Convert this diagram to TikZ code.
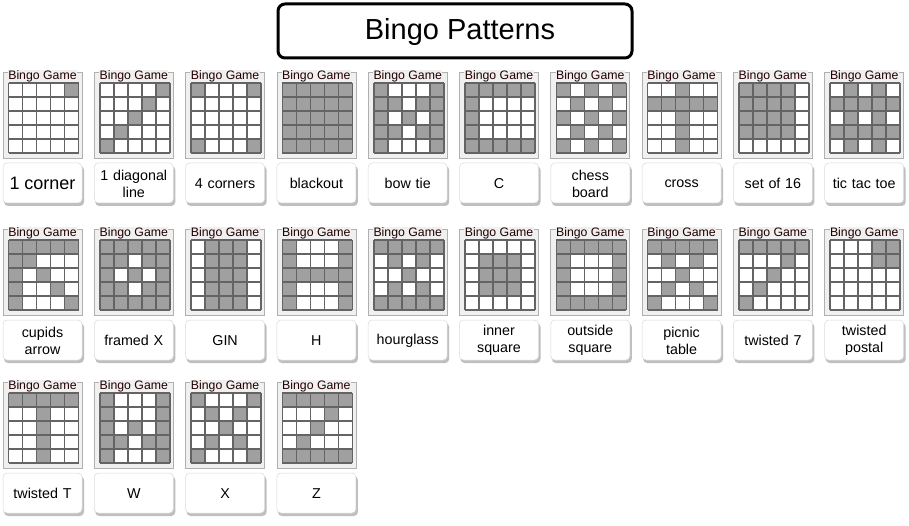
\documentclass[tikz,border=0pt]{standalone}
\usepackage{fontspec}
\setmainfont{Liberation Sans}
\definecolor{cellg}{HTML}{A0A0A0}
\definecolor{lineg}{HTML}{646464}
\definecolor{panelbg}{HTML}{F0F0F0}
\definecolor{panelbd}{HTML}{B0B0B0}
\definecolor{legendc}{HTML}{220000}
\tikzset{
  panel/.style={draw=panelbd,fill=panelbg,line width=0.8pt},
  legendtext/.style={fill=panelbg,inner sep=0.5pt,text=legendc,font=\fontsize{12.3}{13}\selectfont},
  gridln/.style={draw=lineg,line width=1.6pt},
  labelbox/.style={draw=white!85!black,fill=white,rounded corners=4pt,line width=0.5pt},
  shadowbox/.style={fill=black!25,rounded corners=4pt},
  labeltext/.style={align=center,text width=76pt,font=\fontsize{14.3}{17}\selectfont},
  titlebox/.style={draw=black,fill=white,line width=3pt,rounded corners=7pt},
}
\newcommand\card[5]{%
\begin{scope}[shift={(#1,#2)}]
  \draw[panel] (0,0) rectangle (79,86);
  \node[legendtext] at (39.5,4.5) {Bingo Game};
  \foreach \v [count=\i from 0] in {#4} {
    \pgfmathtruncatemacro\rr{floor(\i/5)}
    \pgfmathtruncatemacro\cc{mod(\i,5)}
    \ifnum\v=1 \def\fc{cellg}\else\def\fc{white}\fi
    \fill[\fc] ({5.5+\cc*14},{11+\rr*14}) rectangle ++(14,14);
  }
  \foreach \k in {0,...,5} {
    \draw[gridln] ({5.5+\k*14},11) -- ({5.5+\k*14},81);
    \draw[gridln] (5.5,{11+\k*14}) -- (75.5,{11+\k*14});
  }
  \fill[shadowbox] (1,94) rectangle (81,134);
  \draw[labelbox] (0,91) rectangle (79,131);
  \node[labeltext] (#3) at (39.5,111.5) {#5};
\end{scope}}
\begin{document}
\begin{tikzpicture}[x=1pt,y=-1pt]
\useasboundingbox[fill=white] (0,0) rectangle (909,526);
\draw[titlebox] (278,4) rectangle (632,58);
\node[font=\fontsize{29}{32}\selectfont] (title) at (460,32) {Bingo Patterns};
% row 1
\card{3}{72}{c1}{0,0,0,0,1, 0,0,0,0,0, 0,0,0,0,0, 0,0,0,0,0, 0,0,0,0,0}{\fontsize{18}{20}\selectfont 1 corner}
\card{94.3}{72}{c2}{0,0,0,0,1, 0,0,0,1,0, 0,0,1,0,0, 0,1,0,0,0, 1,0,0,0,0}{1 diagonal\\line}
\card{185.6}{72}{c3}{1,0,0,0,1, 0,0,0,0,0, 0,0,0,0,0, 0,0,0,0,0, 1,0,0,0,1}{4 corners}
\card{276.9}{72}{c4}{1,1,1,1,1, 1,1,1,1,1, 1,1,1,1,1, 1,1,1,1,1, 1,1,1,1,1}{blackout}
\card{368.2}{72}{c5}{1,0,0,0,1, 1,1,0,1,1, 1,0,1,0,1, 1,1,0,1,1, 1,0,0,0,1}{bow tie}
\card{459.5}{72}{c6}{1,1,1,1,1, 1,0,0,0,0, 1,0,0,0,0, 1,0,0,0,0, 1,1,1,1,1}{C}
\card{550.8}{72}{c7}{1,0,1,0,1, 0,1,0,1,0, 1,0,1,0,1, 0,1,0,1,0, 1,0,1,0,1}{chess\\board}
\card{642.1}{72}{c8}{0,0,1,0,0, 1,1,1,1,1, 0,0,1,0,0, 0,0,1,0,0, 0,0,1,0,0}{cross}
\card{733.4}{72}{c9}{1,1,1,1,0, 1,1,1,1,0, 1,1,1,1,0, 1,1,1,1,0, 0,0,0,0,0}{set of 16}
\card{824.7}{72}{c10}{0,1,0,1,0, 1,1,1,1,1, 0,1,0,1,0, 1,1,1,1,1, 0,1,0,1,0}{tic tac toe}
% row 2
\card{3}{229}{d1}{1,1,1,1,1, 1,1,0,0,0, 1,0,1,0,0, 1,0,0,1,0, 1,0,0,0,1}{cupids\\arrow}
\card{94.3}{229}{d2}{1,1,1,1,1, 1,1,0,1,1, 1,0,1,0,1, 1,1,0,1,1, 1,1,1,1,1}{framed X}
\card{185.6}{229}{d3}{0,1,1,1,0, 0,1,1,1,0, 0,1,1,1,0, 0,1,1,1,0, 0,1,1,1,0}{GIN}
\card{276.9}{229}{d4}{1,0,0,0,1, 1,0,0,0,1, 1,1,1,1,1, 1,0,0,0,1, 1,0,0,0,1}{H}
\card{368.2}{229}{d5}{1,1,1,1,1, 0,1,0,1,0, 0,0,1,0,0, 0,1,0,1,0, 1,1,1,1,1}{hourglass}
\card{459.5}{229}{d6}{0,0,0,0,0, 0,1,1,1,0, 0,1,1,1,0, 0,1,1,1,0, 0,0,0,0,0}{inner\\square}
\card{550.8}{229}{d7}{1,1,1,1,1, 1,0,0,0,1, 1,0,0,0,1, 1,0,0,0,1, 1,1,1,1,1}{outside\\square}
\card{642.1}{229}{d8}{1,1,1,1,1, 0,1,0,1,0, 0,0,1,0,0, 0,1,0,1,0, 1,0,0,0,1}{picnic\\table}
\card{733.4}{229}{d9}{1,1,1,1,1, 0,0,0,1,0, 0,0,1,0,0, 0,1,0,0,0, 1,0,0,0,0}{twisted 7}
\card{824.7}{229}{d10}{0,0,0,1,1, 0,0,0,1,1, 0,0,0,0,0, 0,0,0,0,0, 0,0,0,0,0}{twisted\\postal}
% row 3
\card{3}{382}{e1}{1,1,1,1,1, 0,0,1,0,0, 0,0,1,0,0, 0,0,1,0,0, 0,0,1,0,0}{twisted T}
\card{94.3}{382}{e2}{1,0,0,0,1, 1,0,0,0,1, 1,0,1,0,1, 1,1,0,1,1, 1,0,0,0,1}{W}
\card{185.6}{382}{e3}{1,0,0,0,1, 0,1,0,1,0, 0,0,1,0,0, 0,1,0,1,0, 1,0,0,0,1}{X}
\card{276.9}{382}{e4}{1,1,1,1,1, 0,0,0,1,0, 0,0,1,0,0, 0,1,0,0,0, 1,1,1,1,1}{Z}
\end{tikzpicture}
\end{document}
